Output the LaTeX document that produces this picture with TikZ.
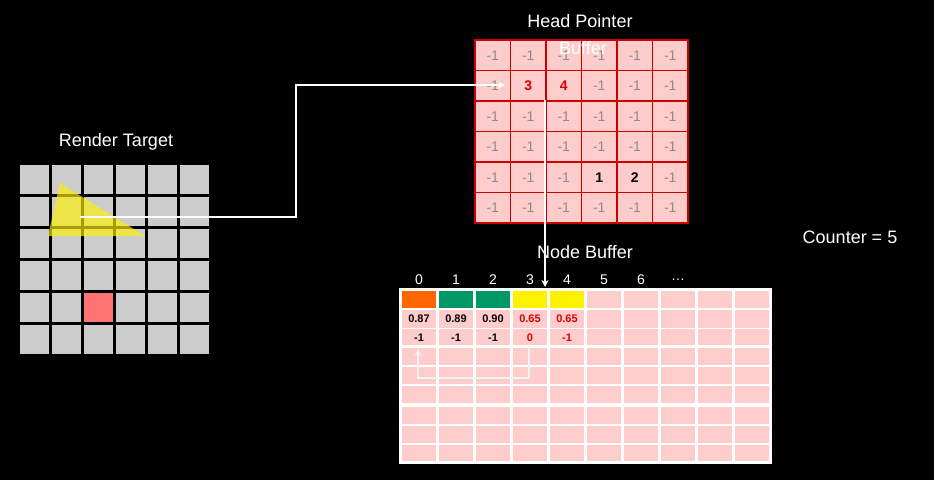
\documentclass[tikz,border=0pt]{standalone}
\usepackage{fontspec}
\setmainfont{Liberation Sans}
\usetikzlibrary{arrows.meta}
\definecolor{teal2}{HTML}{009966}
\begin{document}
\begin{tikzpicture}[x=1pt,y=-1pt,
  lbl/.style={text=white,font=\fontsize{18}{20}\selectfont},
  hp/.style={fill=red!20,draw=red!80!black,line width=1.2pt},
  nv/.style={font=\bfseries\fontsize{11}{12}\selectfont},
  wire/.style={draw=white,line width=1.5pt},
  tip/.style={-{Stealth[length=7pt,width=7pt]}}]
\fill[black] (0,0) rectangle (934,480);
\useasboundingbox (0,0) rectangle (934,480);
% Render target
\node[lbl] (rtl) at (116,142) {Render Target};
\foreach \i in {0,...,5}\foreach \j in {0,...,5}
  \fill[black!20] ({20+32*\i},{165+32*\j}) rectangle ++(29,29);
\fill[red!55] (84,293) rectangle ++(29,29);
\fill[yellow,opacity=0.65] (60,183) -- (48,236) -- (145,236) -- cycle;
\coordinate (tri) at (80,217);
% Head pointer buffer
\node[lbl] (hpl) at (580,21) {Head Pointer};
\foreach \i in {0,...,5}\foreach \j in {0,...,5}{
  \draw[hp] ({475+35.5*\i},{40+30.5*\j}) rectangle ++(35.5,30.5);
  \pgfmathsetmacro\cx{492.75+35.5*\i}\pgfmathsetmacro\cy{55.25+30.5*\j}
  \def\v{\textcolor{black!45}{-1}}
  \ifnum\j=1 \ifnum\i=1 \def\v{\textcolor{red!85!black}{\bfseries 3}}\fi\ifnum\i=2 \def\v{\textcolor{red!85!black}{\bfseries 4}}\fi\fi
  \ifnum\j=4 \ifnum\i=3 \def\v{\textbf{1}}\fi\ifnum\i=4 \def\v{\textbf{2}}\fi\fi
  \node[font=\fontsize{14}{15}\selectfont] (h\i\j) at (\cx,\cy) {\v};
}
\node[lbl] (hpl2) at (583,48) {Buffer};
% Node buffer
\node[lbl] (nbl) at (585,252) {Node Buffer};
\node[lbl] (cnt) at (850,237) {Counter = 5};
\fill[white] (399,288) rectangle (772,464);
\foreach \i in {0,...,9}\foreach \y/\h in {291/17,310/18,329/16,348/17,367/17,386/17,407/17,426/17,445/16}
  \fill[red!20] ({402+37*\i},\y) rectangle ++(34,\h);
\fill[orange!80!red] (402,291) rectangle ++(34,17);
\fill[teal2] (439,291) rectangle ++(34,17);
\fill[teal2] (476,291) rectangle ++(34,17);
\fill[yellow] (513,291) rectangle ++(34,17);
\fill[yellow] (550,291) rectangle ++(34,17);
\foreach \t [count=\k from 0] in {0,1,2,3,4,5,6,{\ldots}}
  \node[text=white,font=\fontsize{14}{15}\selectfont] (c\k) at ({419+37*\k},280) {\t};
\foreach \t/\c [count=\k from 0] in {0.87/black,0.89/black,0.90/black,0.65/red!85!black,0.65/red!85!black}
  \node[nv,text=\c] (d\k) at ({419+37*\k},319) {\t};
\foreach \t/\c [count=\k from 0] in {-1/black,-1/black,-1/black,0/red!85!black,-1/red!85!black}
  \node[nv,text=\c] (n\k) at ({419+37*\k},338) {\t};
% connectors
\coordinate (b1) at (296,217);
\coordinate (b2) at (296,85);
\coordinate (hpin) at (505,85);
\draw[wire,tip] (tri) -- (b1) -- (b2) -- (hpin);
\coordinate (hpout) at (545,100);
\coordinate (nbin) at (545,287);
\draw[wire,tip] (hpout) -- (nbin);
\coordinate (l1) at (529,346);
\coordinate (l2) at (529,378);
\coordinate (l3) at (418,378);
\coordinate (l4) at (418,349);
\draw[draw=white!90!gray,line width=1.5pt,tip] (l1) -- (l2) -- (l3) -- (l4);
\end{tikzpicture}
\end{document}
